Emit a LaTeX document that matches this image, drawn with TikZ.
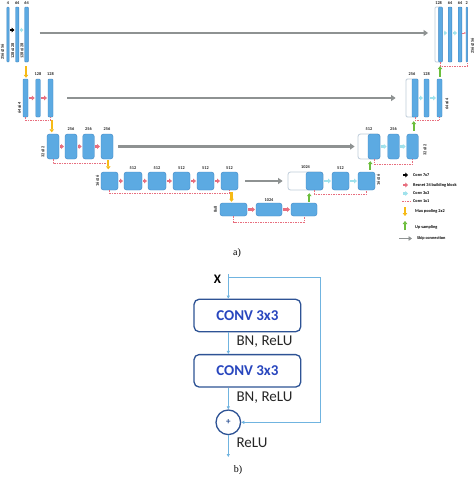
\documentclass[tikz,border=0pt]{standalone}
\usepackage{fontspec}
\setmainfont{Carlito}
\newfontfamily\capfont{Liberation Serif}
\usepackage{tikz}
\usetikzlibrary{arrows.meta,calc,positioning}

\definecolor{barblue}{RGB}{92,170,226}
\definecolor{baredge}{RGB}{62,134,196}
\definecolor{ghost}{RGB}{190,204,218}
\definecolor{skipgrey}{RGB}{142,146,146}
\definecolor{poolyel}{RGB}{246,186,22}
\definecolor{upgreen}{RGB}{108,190,60}
\definecolor{resred}{RGB}{232,110,126}
\definecolor{convcyan}{RGB}{160,226,236}
\definecolor{flowblue}{RGB}{112,180,224}
\definecolor{boxnavy}{RGB}{46,83,149}
\definecolor{convtext}{RGB}{40,70,190}

\begin{document}
\begin{tikzpicture}[x=1pt,y=-1pt,
    bar/.style={draw=baredge, fill=barblue, line width=0.4pt, rounded corners=0.8pt, inner sep=0pt},
    blk/.style={bar, rounded corners=2.5pt},
    ghostbar/.style={draw=ghost, fill=white, line width=0.8pt, rounded corners=1.2pt, inner sep=0pt},
    tag/.style={font=\bfseries\fontsize{4.3}{5}\selectfont, inner sep=0pt, text=black!85},
    dim/.style={tag, rotate=90},
    skip/.style={draw=skipgrey, line width=2.3pt, -{Triangle[length=4.5pt,width=6pt]}},
    pool/.style={draw=poolyel, line width=2.2pt, -{Triangle[length=3pt,width=4.5pt]}},
    upsmp/.style={draw=upgreen, line width=2.2pt, -{Triangle[length=3pt,width=4.5pt]}},
    res/.style={draw=resred, line width=2.1pt, -{Triangle[length=2.6pt,width=4.8pt]}, shorten <=1pt, shorten >=1pt},
    cthree/.style={res, draw=convcyan},
    sevenk/.style={res, draw=black},
    onex/.style={draw=resred, line width=0.5pt, -{Triangle[length=1.5pt,width=1.8pt]}},
    resid/.style={draw=resred, line width=0.5pt, dash pattern=on 1.5pt off 1pt},
    key/.style={font=\bfseries\fontsize{4.3}{5}\selectfont, anchor=west, inner sep=0pt},
    flow/.style={draw=flowblue, line width=0.9pt, -{Triangle[length=3pt,width=3pt]}},
    cbox/.style={draw=boxnavy, line width=1.3pt, rounded corners=5pt, minimum width=106.7, minimum height=32.4, inner sep=0pt, text=convtext, font=\bfseries\fontsize{15}{18}\selectfont},
    sumc/.style={circle, draw=boxnavy, line width=1.3pt, minimum size=24.6, inner sep=0pt, text=boxnavy, font=\bfseries\fontsize{9}{10}\selectfont},
    bnlab/.style={font=\fontsize{15}{18}\selectfont, text=black!85, inner sep=0pt},
    caplab/.style={font=\capfont\fontsize{10}{12}\selectfont, inner sep=0pt}]
    \useasboundingbox[fill=white] (0,0) rectangle (474,479);

    \node[bar, minimum width=2.2, minimum height=55] (l1a) at (8,34.5) {};
    \node[bar, minimum width=3.4, minimum height=55] (l1b) at (17.2,34.5) {};
    \node[bar, minimum width=3.6, minimum height=55] (l1c) at (26.5,34.5) {};
    \node[ghostbar, minimum width=7.3, minimum height=55] (r1s) at (438.6,34.5) {};
    \node[bar, minimum width=3.7, minimum height=55] (r1a) at (440.5,34.5) {};
    \node[bar, minimum width=3.6, minimum height=55] (r1b) at (450,34.5) {};
    \node[bar, minimum width=3.6, minimum height=55] (r1c) at (460,34.5) {};
    \node[bar, minimum width=1.6, minimum height=55] (r1d) at (466.8,34.5) {};

    \node[bar, minimum width=5, minimum height=38] (l2a) at (25.5,98) {};
    \node[bar, minimum width=4.5, minimum height=38] (l2b) at (38,98) {};
    \node[bar, minimum width=5, minimum height=38] (l2c) at (50.5,98) {};
    \node[ghostbar, minimum width=12, minimum height=38] (r2s) at (412,98) {};
    \node[bar, minimum width=6, minimum height=38] (r2a) at (415,98) {};
    \node[bar, minimum width=5, minimum height=38] (r2b) at (426.5,98) {};
    \node[bar, minimum width=5, minimum height=38] (r2c) at (439.5,98) {};

    \node[blk, minimum width=12, minimum height=25] (l3a) at (53,146.5) {};
    \node[blk, minimum width=12, minimum height=25] (l3b) at (71,146.5) {};
    \node[blk, minimum width=11.5, minimum height=25] (l3c) at (88.5,146.5) {};
    \node[blk, minimum width=12, minimum height=25] (l3d) at (107,146.5) {};
    \node[ghostbar, rounded corners=2.5pt, minimum width=22, minimum height=25] (r3s) at (369,146.5) {};
    \node[blk, minimum width=12, minimum height=25] (r3a) at (374,146.5) {};
    \node[blk, minimum width=11.5, minimum height=25] (r3b) at (393.5,146.5) {};
    \node[blk, minimum width=11.5, minimum height=25] (r3c) at (412.5,146.5) {};

    \node[blk, minimum width=17, minimum height=18] (l4a) at (109.5,181) {};
    \node[blk, minimum width=18, minimum height=18] (l4b) at (133,181) {};
    \node[blk, minimum width=18, minimum height=18] (l4c) at (157,181) {};
    \node[blk, minimum width=17, minimum height=18] (l4d) at (181.5,181) {};
    \node[blk, minimum width=17, minimum height=18] (l4e) at (205.5,181) {};
    \node[blk, minimum width=17, minimum height=18] (l4f) at (229.5,181) {};
    \node[ghostbar, rounded corners=2.5pt, minimum width=35, minimum height=18] (r4s) at (305.5,181) {};
    \node[blk, minimum width=17, minimum height=18] (r4a) at (314.5,181) {};
    \node[blk, minimum width=17, minimum height=18] (r4b) at (340.5,181) {};
    \node[blk, minimum width=17, minimum height=18] (r4c) at (366.5,181) {};

    \node[blk, minimum width=27, minimum height=13] (l5a) at (233.5,209.5) {};
    \node[blk, minimum width=26, minimum height=13] (l5b) at (269,209.5) {};
    \node[blk, minimum width=26, minimum height=13] (l5c) at (304,209.5) {};

    \node[tag, above=2pt of l1a] (t1a) {4};
    \node[tag, above=2pt of l1b] (t1b) {64};
    \node[tag, above=2pt of l1c] (t1c) {64};
    \node[tag, above=2pt of r1s] (t1s) {128};
    \node[tag, above=2pt of r1b] (t1e) {64};
    \node[tag, above=2pt of r1c] (t1f) {64};
    \node[tag, above=2pt of r1d] (t1g) {2};
    \node[tag, above=3pt of l2b] (t2b) {128};
    \node[tag, above=3pt of l2c] (t2c) {128};
    \node[tag, above=3pt of r2s] (t2s) {256};
    \node[tag, above=3pt of r2b] (t2e) {128};
    \node[tag, above=3pt of l3b] (t3b) {256};
    \node[tag, above=3pt of l3c] (t3c) {256};
    \node[tag, above=3pt of l3d] (t3d) {256};
    \node[tag, above=3pt of r3s] (t3s) {512};
    \node[tag, above=3pt of r3b] (t3e) {256};
    \node[tag, above=2.5pt of l4b] (t4b) {512};
    \node[tag, above=2.5pt of l4c] (t4c) {512};
    \node[tag, above=2.5pt of l4d] (t4d) {512};
    \node[tag, above=2.5pt of l4e] (t4e) {512};
    \node[tag, above=2.5pt of l4f] (t4f) {512};
    \node[tag, above=2.5pt of r4s] (t4s) {1024};
    \node[tag, above=2.5pt of r4b] (t4g) {512};
    \node[tag, above=1.5pt of l5b] (t5b) {1024};

    \node[dim] (d1l) at (2.5,52) {256x256};
    \node[dim] (d1m) at (12.6,51) {128x128};
    \node[dim] (d1n) at (21.9,51) {128x128};
    \node[dim] (d1r) at (472.5,46) {256x256};
    \node[dim] (d2l) at (19.5,108) {64x64};
    \node[dim] (d2r) at (447,104) {64x64};
    \node[dim] (d3l) at (43,152) {32x32};
    \node[dim] (d3r) at (425,150) {32x32};
    \node[dim] (d4l) at (97.5,181) {16x16};
    \node[dim] (d4r) at (378.5,180) {16x16};
    \node[dim] (d5l) at (215.5,209.5) {8x8};

    \draw[sevenk] ([yshift=4.5pt]l1a.east) -- ([yshift=4.5pt]l1b.west);
    \draw[cthree] ([yshift=4.5pt]l1b.east) -- ([yshift=4.5pt]l1c.west);
    \draw[cthree] ([yshift=1.5pt]r1a.east) -- ([yshift=1.5pt]r1b.west);
    \draw[cthree] ([yshift=1.5pt]r1b.east) -- ([yshift=1.5pt]r1c.west);
    \draw[onex] ([yshift=1.5pt]r1c.east) -- ([yshift=1.5pt]r1d.west);
    \draw[res] (l2a) -- (l2b);
    \draw[res] (l2b) -- (l2c);
    \draw[cthree] (r2a) -- (r2b);
    \draw[cthree] (r2b) -- (r2c);
    \draw[res] (l3a) -- (l3b);
    \draw[res] (l3b) -- (l3c);
    \draw[res] (l3c) -- (l3d);
    \draw[cthree] (r3a) -- (r3b);
    \draw[cthree] (r3b) -- (r3c);
    \draw[res] (l4a) -- (l4b);
    \draw[res] (l4b) -- (l4c);
    \draw[res] (l4c) -- (l4d);
    \draw[res] (l4d) -- (l4e);
    \draw[res] (l4e) -- (l4f);
    \draw[cthree] (r4a) -- (r4b);
    \draw[cthree] (r4b) -- (r4c);
    \draw[res] (l5a) -- (l5b);
    \draw[res] (l5b) -- (l5c);

    \draw[resid] (r1a.south) -- ++(0,4) -| (r1d.south);
    \draw[resid] (l2a.south) -- ++(0,3) -| (l2c.south);
    \draw[resid] (r2a.south) -- ++(0,3) -| (r2c.south);
    \draw[resid] (l3a.south) -- ++(0,4) -| (l3d.south);
    \draw[resid] (r3a.south) -- ++(0,5) -| (r3c.south);
    \draw[resid] (l4a.south) -- ++(0,3) -| (l4f.south);
    \draw[resid] (r4a.south) -- ++(0,4) -| (r4c.south);
    \draw[resid] (l5a.south) -- ++(0,6) -| (l5c.south);

    \draw[skip, shorten <=11pt, shorten >=6.5pt] ([yshift=1.5pt]l1c.east) -- ([yshift=1.5pt]r1s.west);
    \draw[skip, shorten <=14pt, shorten >=10pt] (l2c) -- (r2s);
    \draw[skip, shorten <=5pt, shorten >=3pt] (l3d) -- (r3s);
    \draw[skip, shorten <=7pt, shorten >=5pt] (l4f) -- (r4s);

    \coordinate (p1) at ($(l1c.south)!0.5!(l2a.north)$);
    \coordinate (p2) at ($(l2c.south)!0.5!(l3a.north)$);
    \coordinate (p3) at ($(l3d.south)!0.5!(l4a.north)$);
    \coordinate (p4) at ($(l4f.south)!0.5!(l5a.north)$);
    \draw[pool, shorten <=4pt, shorten >=1pt] (p1 |- l1c.south) -- (p1 |- l2a.north);
    \draw[pool, shorten <=3pt, shorten >=1.5pt] (p2 |- l2c.south) -- (p2 |- l3a.north);
    \draw[pool, shorten <=1pt, shorten >=2.5pt] (p3 |- l3d.south) -- (p3 |- l4a.north);
    \draw[pool, shorten <=2pt, shorten >=1pt] (p4 |- l4f.south) -- (p4 |- l5a.north);

    \coordinate (u1) at ($(r2c.north)!0.5!(r1a.south)$);
    \coordinate (u2) at ($(r3c.north)!0.5!(r2a.south)$);
    \coordinate (u3) at ($(r4c.north)!0.5!(r3a.south)$);
    \coordinate (u4) at ($(l5c.north)!0.5!(r4a.south)$);
    \draw[upsmp, shorten <=2pt, shorten >=4pt] (u1 |- r2c.north) -- (u1 |- r1a.south);
    \draw[upsmp, shorten <=3pt, shorten >=4pt] (u2 |- r3c.north) -- (u2 |- r2a.south);
    \draw[upsmp, shorten <=2pt, shorten >=2pt] (u3 |- r4c.north) -- (u3 |- r3a.south);
    \draw[upsmp, shorten <=1pt, shorten >=3pt] (u4 |- l5c.north) -- (u4 |- r4a.south);

    \node[key] (k1) at (413,175) {Conv 7x7};
    \node[key] (k2) at (413,185) {Resnet 34 building block};
    \node[key] (k3) at (413,193.5) {Conv 3x3};
    \node[key] (k4) at (413,201.5) {Conv 1x1};
    \node[key] (k5) at (415,211) {Max pooling 2x2};
    \node[key] (k6) at (415,227) {Up sampling};
    \node[key] (k7) at (417,238.5) {Skip connection};
    \draw[sevenk, shorten <=0pt, shorten >=0pt] ([xshift=-10pt]k1.west) -- ([xshift=-5pt]k1.west);
    \draw[res, shorten <=0pt, shorten >=0pt] ([xshift=-10pt]k2.west) -- ([xshift=-5pt]k2.west);
    \draw[cthree, shorten <=0pt, shorten >=0pt] ([xshift=-10pt]k3.west) -- ([xshift=-5pt]k3.west);
    \draw[resid] ([xshift=-11pt]k4.west) -- ([xshift=-1pt]k4.west);
    \draw[pool] ([xshift=-10pt,yshift=4pt]k5.west) -- ([xshift=-10pt,yshift=-5pt]k5.west);
    \draw[upsmp] ([xshift=-10pt,yshift=-3pt]k6.west) -- ([xshift=-10pt,yshift=6pt]k6.west);
    \draw[skip, line width=1.8pt, -{Triangle[length=3.5pt,width=4.5pt]}] ([xshift=-18pt]k7.west) -- ([xshift=-5pt]k7.west);

    \node[caplab] (ca) at (237,253) {a)};

    \node[cbox] (cv1) at (247.4,315.5) {CONV 3x3};
    \node[cbox] (cv2) at (247.4,370.8) {CONV 3x3};
    \node[sumc] (add) at (228.3,422.3) {+};
    \coordinate (xin) at (228.3,274);
    \coordinate (tap) at (228.3,277.3);
    \coordinate (rt) at (320,277.3);
    \coordinate (out) at (228.3,457);
    \node[font=\bfseries\fontsize{13}{15}\selectfont, inner sep=0pt] (xv) at (217.5,279) {X};
    \draw[flow] (xin) -- (xin |- cv1.north);
    \draw[flow] (cv1.south -| xin) -- (cv2.north -| xin);
    \draw[flow] (cv2.south -| add) -- (add.north);
    \draw[flow] (tap) -- (rt) |- (add.east);
    \draw[flow] (add) -- (out);
    \node[bnlab] (bn1) at (264.5,342) {BN, ReLU};
    \node[bnlab] (bn2) at (264.5,398) {BN, ReLU};
    \node[bnlab] (rl) at (252,443) {ReLU};
    \node[caplab] (cb) at (238,470) {b)};
\end{tikzpicture}
\end{document}
